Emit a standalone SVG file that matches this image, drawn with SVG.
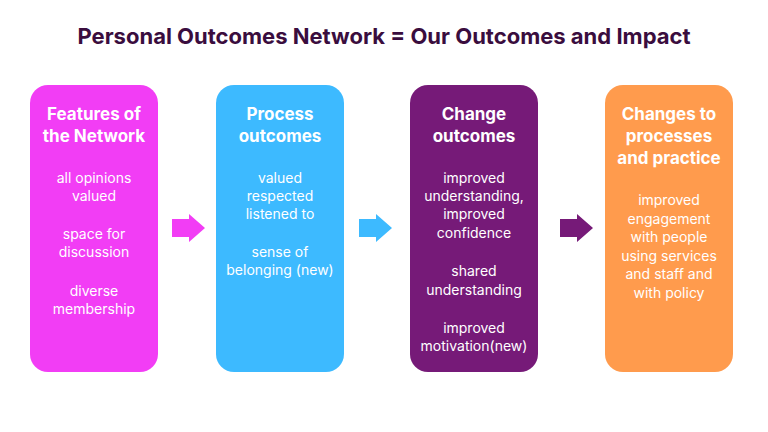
<svg xmlns="http://www.w3.org/2000/svg" width="768" height="432" viewBox="0 0 768 432">
<style>
text{font-family:Inter,"Liberation Sans",sans-serif;fill:#fff;text-anchor:middle}
.h{font-size:17px;font-weight:700}
.b{font-size:14px}
.t{font-size:22px;font-weight:700;fill:#3a0d3e}
</style>
<rect width="768" height="432" fill="#fff"/>
<text class="t" x="384" y="44">Personal Outcomes Network = Our Outcomes and Impact</text>
<g id="n1"><rect x="30" y="85" width="128" height="287" rx="18" fill="#f23df5"/>
<text class="h" x="94" y="120">Features of</text><text class="h" x="94" y="142">the Network</text>
<text class="b" x="94" y="183">all opinions</text><text class="b" x="94" y="201">valued</text>
<text class="b" x="94" y="239">space for</text><text class="b" x="94" y="257">discussion</text>
<text class="b" x="94" y="296">diverse</text><text class="b" x="94" y="314">membership</text></g>
<g id="n2"><rect x="216" y="85" width="128" height="287" rx="18" fill="#3dbaff"/>
<text class="h" x="280" y="120">Process</text><text class="h" x="280" y="142">outcomes</text>
<text class="b" x="280" y="183">valued</text><text class="b" x="280" y="201">respected</text><text class="b" x="280" y="219">listened to</text>
<text class="b" x="280" y="257">sense of</text><text class="b" x="280" y="275">belonging (new)</text></g>
<g id="n3"><rect x="410" y="85" width="128" height="287" rx="18" fill="#761a78"/>
<text class="h" x="474" y="120">Change</text><text class="h" x="474" y="142">outcomes</text>
<text class="b" x="474" y="183">improved</text><text class="b" x="474" y="201">understanding,</text><text class="b" x="474" y="219">improved</text><text class="b" x="474" y="238">confidence</text>
<text class="b" x="474" y="276">shared</text><text class="b" x="474" y="295">understanding</text>
<text class="b" x="474" y="333">improved</text><text class="b" x="474" y="351">motivation(new)</text></g>
<g id="n4"><rect x="605" y="85" width="128" height="287" rx="18" fill="#ff9b4d"/>
<text class="h" x="669" y="120">Changes to</text><text class="h" x="669" y="142">processes</text><text class="h" x="669" y="164">and practice</text>
<text class="b" x="669" y="205">improved</text><text class="b" x="669" y="224">engagement</text><text class="b" x="669" y="242">with people</text><text class="b" x="669" y="261">using services</text><text class="b" x="669" y="279">and staff and</text><text class="b" x="669" y="298">with policy</text></g>
<g id="connectors">
<path d="M172 219h17v-5l16 14l-16 14v-5h-17z" fill="#f23df5"/>
<path d="M359 219h17v-5l16 14l-16 14v-5h-17z" fill="#3dbaff"/>
<path d="M560 219h17v-5l16 14l-16 14v-5h-17z" fill="#761a78"/>
</g>
</svg>
